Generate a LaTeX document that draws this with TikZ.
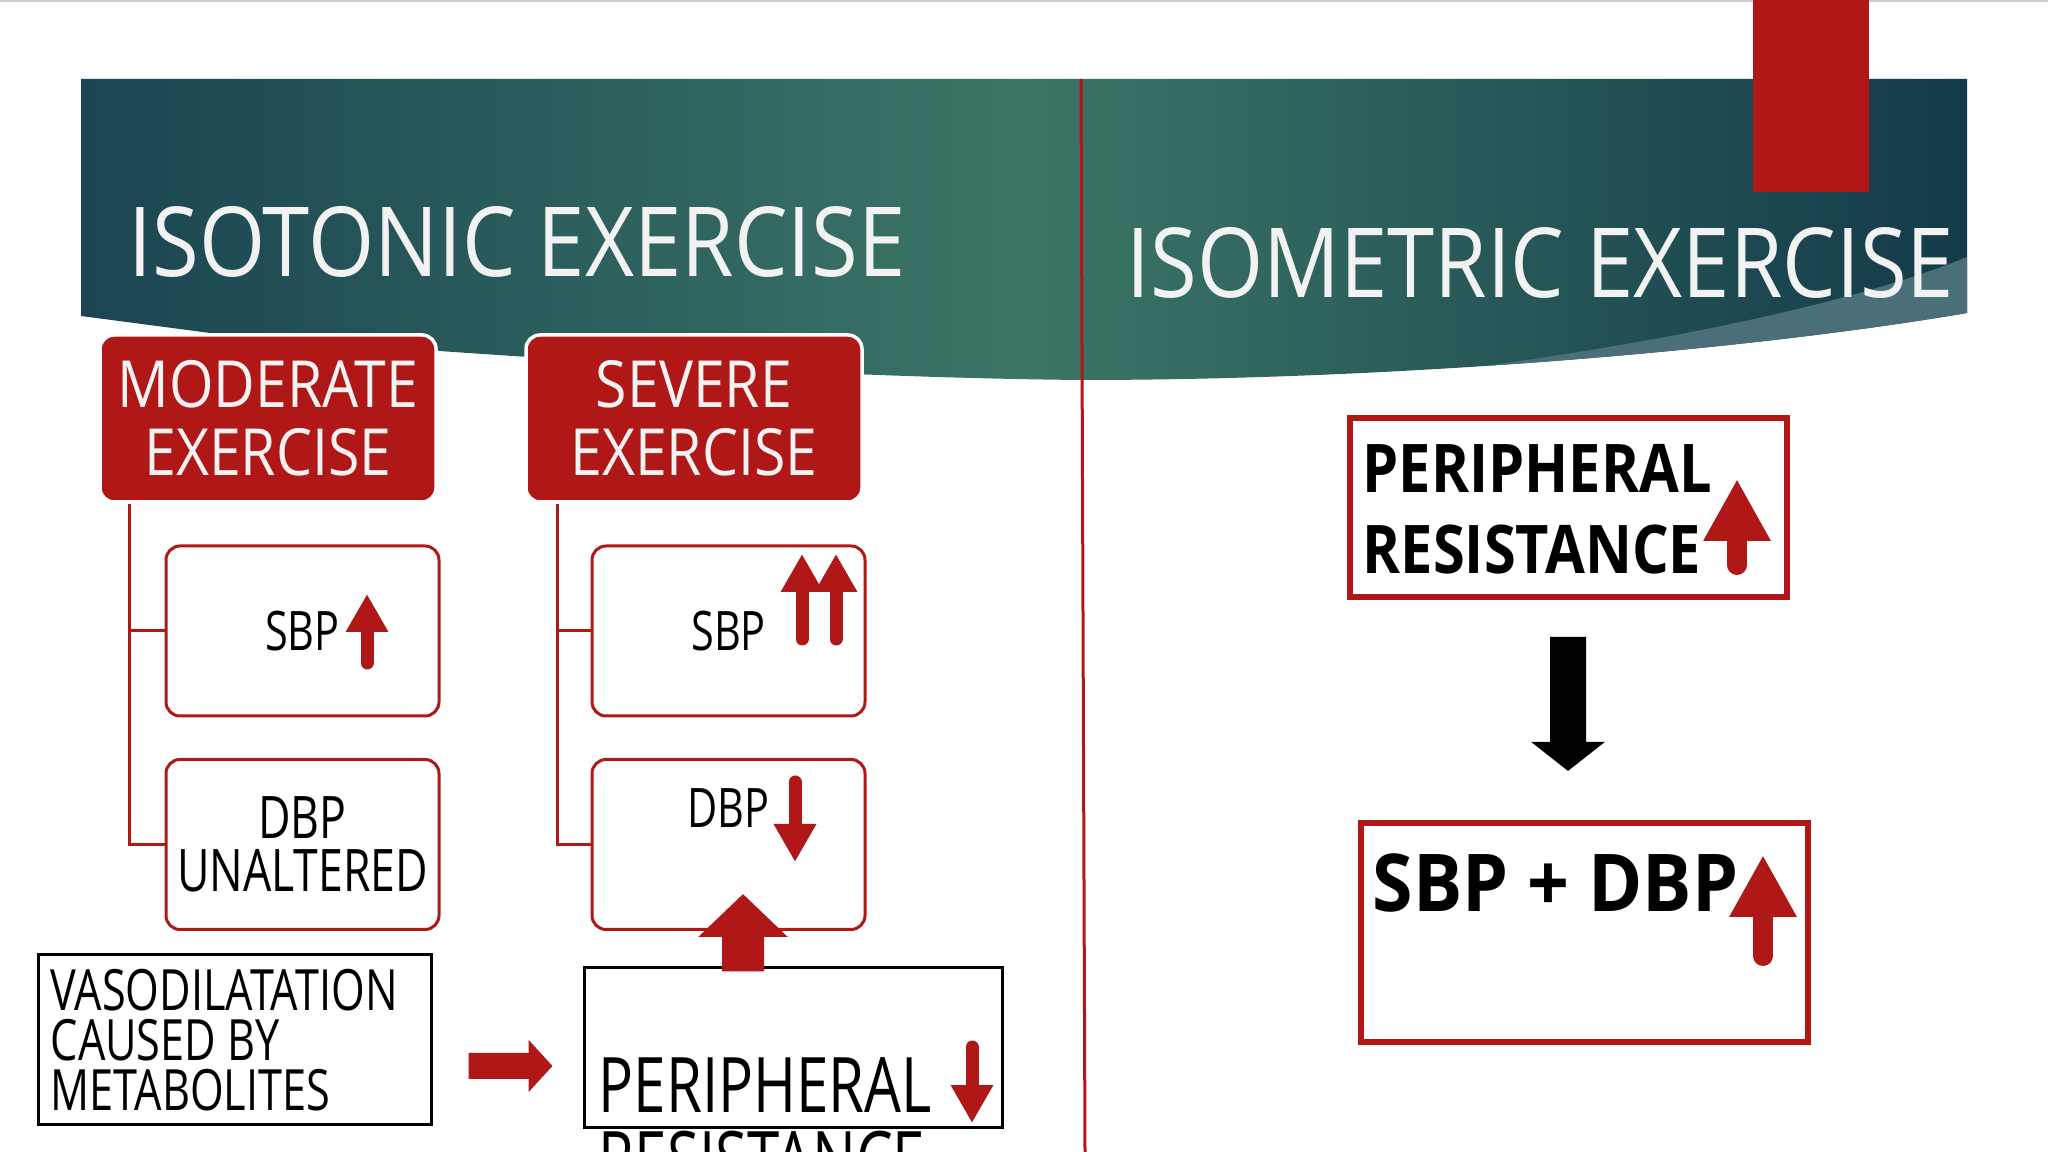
\documentclass[tikz,border=0pt]{standalone}
\usepackage{fontspec}
\usepackage{xcolor}
\usepackage{tikz}
\usetikzlibrary{arrows.meta,positioning}
\setmainfont{Open Sans}
\newfontfamily\titlefont[FakeStretch=0.88]{Open Sans}
\newfontfamily\bodyfont[FakeStretch=0.76]{Open Sans}
\newfontfamily\heavyfont[FakeStretch=0.86]{Open Sans}
\newfontfamily\heavywide[FakeStretch=0.92]{Open Sans}
\definecolor{cRed}{HTML}{B01818}
\definecolor{cTealA}{HTML}{1B4552}
\definecolor{cTealB}{HTML}{3C7667}
\definecolor{cTealC}{HTML}{133A49}
\definecolor{cWedge}{HTML}{4A6F78}
\definecolor{cPaper}{HTML}{F2F2F2}
\tikzset{
  titletxt/.style={inner sep=0pt, text=cPaper, font=\titlefont\fontsize{27.5}{30}\selectfont},
  headbox/.style={draw=white, line width=0.35mm, fill=cRed, rounded corners=1.4mm, inner sep=0pt,
    minimum width=33.6mm, minimum height=16.7mm, align=center, text=cPaper,
    font=\titlefont\fontsize{18.5}{19.4}\selectfont},
  subbox/.style={draw=cRed, line width=0.3mm, fill=white, rounded corners=1.4mm, inner sep=0pt,
    minimum width=27.3mm, minimum height=17mm, align=center,
    font=\bodyfont\fontsize{16.7}{15.1}\selectfont},
  plainbox/.style={draw=black, line width=0.3mm, fill=white, inner sep=0pt},
  redbox/.style={draw=cRed, line width=0.6mm, fill=white, inner sep=0pt},
  bodytxt/.style={inner sep=0pt, align=left, font=\bodyfont\fontsize{16.2}{14.2}\selectfont},
  heavytxt/.style={inner sep=0pt, align=left, font=\heavyfont\bfseries\fontsize{19.1}{23}\selectfont},
  tree/.style={draw=cRed, line width=0.3mm},
  upsmall/.style={-{Triangle[width=4mm,length=3.8mm]}, line width=1.3mm, line cap=round, draw=cRed},
  upbig/.style={-{Triangle[width=6.3mm,length=6.2mm]}, line width=2mm, line cap=round, draw=cRed},
  blockred/.style={-{Triangle[width=8.7mm,length=4.3mm]}, line width=4.2mm, draw=cRed},
  blockredh/.style={-{Triangle[width=5.1mm,length=2.4mm]}, line width=2.6mm, draw=cRed},
  blockblack/.style={-{Triangle[width=7.2mm,length=2.9mm]}, line width=3.6mm, draw=black},
}

\begin{document}
\begin{tikzpicture}[x=0.1mm, y=-0.1mm]
  \useasboundingbox (0,0) rectangle (2048,1152);
  \clip (0,0) rectangle (2048,1152);
  \draw[black!20, line width=0.25mm] (0,1) -- (2048,1);
  % banner
  \shade[left color=cTealA, right color=cTealC, middle color=cTealB]
    (81,79) -- (1967,79) -- (1967,313) .. controls (1750,350) and (1400,380) .. (1081,380)
    .. controls (860,378) and (520,360) .. (210,333) -- (81,316) -- cycle;
  \begin{scope}
    \clip (81,79) -- (1967,79) -- (1967,313) .. controls (1750,350) and (1400,380) .. (1081,380)
      .. controls (860,378) and (520,360) .. (210,333) -- (81,316) -- cycle;
    \fill[cWedge] (1440,372) .. controls (1650,345) and (1850,305) .. (1967,257)
      -- (1990,257) -- (1990,420) -- (1440,420) -- cycle;
  \end{scope}
  \fill[cRed] (1753,-2) rectangle (1869,192);
  \draw[cRed, line width=0.3mm] (1081,79) -- (1085,1152);
  \node[titletxt, anchor=base west] (isoT) at (128,277) {ISOTONIC EXERCISE};
  \node[titletxt, anchor=base west] (isoM) at (1126,298) {ISOMETRIC EXERCISE};

  % isotonic side
  \node[headbox] (modH) at (268,418.5) {MODERATE\\EXERCISE};
  \node[headbox] (sevH) at (694,418.5) {SEVERE\\EXERCISE};
  \node[subbox] (sbpM) at (302.5,631) {\fontsize{15.5}{15}\selectfont SBP};
  \node[subbox] (dbpM) at (302.5,844.5) {DBP\\UNALTERED};
  \node[subbox] (sbpS) at (728.5,631) {\fontsize{15.5}{15}\selectfont SBP};
  \node[subbox] (dbpS) at (728.5,844.5) {};
  \node[bodytxt, anchor=base, font=\bodyfont\fontsize{15.5}{15}\selectfont] (dbpSt) at (728,828) {DBP};
  \draw[tree] ([xshift=3.1mm]modH.south west) |- (sbpM.west);
  \draw[tree] ([xshift=3.1mm]modH.south west) |- (dbpM.west);
  \draw[tree] ([xshift=3.3mm]sevH.south west) |- (sbpS.west);
  \draw[tree] ([xshift=3.3mm]sevH.south west) |- (dbpS.west);
  \node[plainbox, minimum width=39.3mm, minimum height=17mm] (vaso) at (234.5,1040) {};
  \node[bodytxt, anchor=north west] (vasoT) at (50,969) {VASODILATATION\\CAUSED BY\\METABOLITES};
  \node[plainbox, minimum width=41.8mm, minimum height=16mm] (perL) at (793,1048) {};
  \node[bodytxt, anchor=north west, font=\bodyfont\fontsize{21.8}{21}\selectfont] (perLt) at (598,1057) {PERIPHERAL\\RESISTANCE};
  \draw[upsmall] (367,663) -- (367,594);
  \draw[upsmall] (802,639) -- (802,554);
  \draw[upsmall] (836,639) -- (836,554);
  \draw[upsmall] (795,782) -- (795,862);
  \draw[upsmall] (972,1047) -- (972,1123);
  \draw[blockred] ([xshift=-5mm,yshift=-0.5mm]perL.north) -- ([xshift=1.45mm,yshift=3.7mm]dbpS.south);
  \draw[blockredh] ([xshift=3.6mm,yshift=-2.6mm]vaso.east) -- ([xshift=-3mm,yshift=-1.8mm]perL.west);

  % isometric side
  \node[redbox, minimum width=43.7mm, minimum height=17.9mm] (prR) at (1568,507.5) {};
  \node[heavytxt, anchor=north west] (prRt) at (1362,444) {PERIPHERAL\\RESISTANCE};
  \node[redbox, minimum width=44.7mm, minimum height=21.9mm] (sdR) at (1584,932.5) {};
  \node[heavytxt, anchor=base west, font=\heavywide\bfseries\fontsize{22.7}{26}\selectfont] (sdRt) at (1372,912) {SBP + DBP};
  \draw[upbig] (1737,565) -- (1737,479);
  \draw[upbig] (1763,956) -- (1763,855);
  \draw[blockblack] ([yshift=-3.7mm]prR.south) -- ([xshift=-1.6mm,yshift=4.9mm]sdR.north);
\end{tikzpicture}
\end{document}
